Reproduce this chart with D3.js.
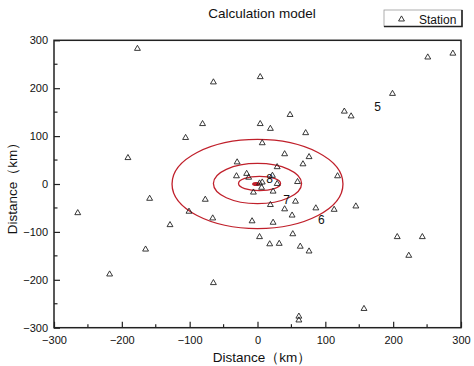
<!DOCTYPE html>
<html><head><meta charset="utf-8">
<script src="https://cdn.jsdelivr.net/npm/d3@7"></script>
<style>body{margin:0;background:#fff}svg{display:block}text{font-family:"Liberation Sans",Arial,sans-serif}</style>
</head><body><svg id="c" width="474" height="366"></svg>
<script>
const stationX = [-177,-65,4,251,288,199,128,138,48,-81,4,19,71,-106,7,-191,40,76,-30,67,29,-16,-31,-13,22,118,59,3,7,29,6,-6,23,56,19,40,51,86,113,145,-159,-77,-265,-101,-66,-8,23,-129,3,52,206,243,18,32,63,76,-165,-218,-65,223,157,61,61];
const stationY = [284,214,225,266,274,190,153,143,146,127,127,117,108,98,87,56,64,58,47,43,37,23,18,15,19,18,6,3,5,2,-6,-16,-14,-35,-42,-51,-64,-49,-52,-45,-29,-31,-59,-56,-70,-76,-79,-84,-109,-103,-109,-109,-124,-123,-129,-139,-135,-187,-205,-148,-259,-275,-283];
// contour ellipses (km): level, centre x, centre y, semi-axis x, semi-axis y
const contourLevel = [6,7,8,9];
const contourCx = [0,0,3,-2];
const contourCy = [0,1,1,0];
const contourRx = [126,65,31,5];
const contourRy = [93,42,15,3];
const labelText = ["5","6","7","8"];
const labelX = [177,94,43,18];
const labelY = [160,-77,-35,8];
const xTicks = [-300,-200,-100,0,100,200,300];
const yTicks = [-300,-200,-100,0,100,200,300];

const svg = d3.select("#c");
const L=54,R=461,T=40.3,B=327.7;
const x = d3.scaleLinear().domain([-300,300]).range([L,R]);
const y = d3.scaleLinear().domain([-300,300]).range([B,T]);

// contours
const cg = svg.append("g");
contourLevel.forEach((lv,i)=>{
  cg.append("ellipse")
    .attr("cx",x(contourCx[i])).attr("cy",y(contourCy[i]))
    .attr("rx",x(contourRx[i])-x(0)).attr("ry",y(0)-y(contourRy[i]))
    .attr("fill",i===3?"#c8202a":"none").attr("stroke","#c0202b").attr("stroke-width",1.3);
});

// stations
const sym = d3.symbol().type(d3.symbolTriangle).size(15);
svg.append("g").selectAll("path").data(stationX.map((v,i)=>[v,stationY[i]])).join("path")
  .attr("d",sym).attr("transform",d=>`translate(${x(d[0])},${y(d[1])+0.7})`)
  .attr("fill","none").attr("stroke","#222").attr("stroke-width",0.9);

// contour labels
svg.append("g").selectAll("text").data(labelText).join("text")
  .attr("x",(d,i)=>x(labelX[i])).attr("y",(d,i)=>y(labelY[i]))
  .attr("text-anchor","middle").attr("dominant-baseline","middle")
  .attr("font-size",12).attr("fill","#111").text(d=>d);

// axes with inward ticks
const xAxis = d3.axisBottom(x).tickValues(xTicks).tickSize(-6).tickPadding(9);
const gx = svg.append("g").attr("transform",`translate(0,${B})`).call(xAxis);
const yAxis = d3.axisLeft(y).tickValues(yTicks).tickSize(-6).tickPadding(9);
const gy = svg.append("g").attr("transform",`translate(${L},0)`).call(yAxis);
[gx,gy].forEach(g=>{
  g.select(".domain").remove();
  g.selectAll(".tick line").attr("stroke","#222").attr("stroke-width",1.2);
  g.selectAll("text").attr("font-size",11).attr("fill","#111").attr("font-family","Liberation Sans, Arial, sans-serif");
});
gy.selectAll("text").attr("dx",3);
// minor ticks
const minor = [-250,-150,-50,50,150,250];
svg.append("g").selectAll("line").data(minor).join("line")
  .attr("x1",d=>x(d)).attr("x2",d=>x(d)).attr("y1",B).attr("y2",B-3.5).attr("stroke","#222").attr("stroke-width",1.2);
svg.append("g").selectAll("line").data(minor).join("line")
  .attr("y1",d=>y(d)).attr("y2",d=>y(d)).attr("x1",L).attr("x2",L+3.5).attr("stroke","#222").attr("stroke-width",1.2);

// frame
svg.append("rect").attr("x",L).attr("y",T).attr("width",R-L).attr("height",B-T)
  .attr("fill","none").attr("stroke","#222").attr("stroke-width",1.5);

// titles
svg.append("text").attr("x",262).attr("y",18).attr("text-anchor","middle").attr("font-size",13.5).attr("fill","#111").text("Calculation model");
svg.append("text").attr("x",262).attr("y",362).attr("text-anchor","middle").attr("font-size",13.5).attr("fill","#111").text("Distance（km）");
svg.append("text").attr("transform","translate(17,185) rotate(-90)").attr("text-anchor","middle").attr("font-size",13.5).attr("fill","#111").text("Distance（km）");

// legend
const lg = svg.append("g");
lg.append("rect").attr("x",384).attr("y",10).attr("width",78).attr("height",16.5).attr("fill","#fff").attr("stroke","#999").attr("stroke-width",0.8);
lg.append("path").attr("d",`M462,10V26.5H384`).attr("fill","none").attr("stroke","#222").attr("stroke-width",1.6);
lg.append("path").attr("d",sym).attr("transform","translate(401.5,19.3)").attr("fill","none").attr("stroke","#222").attr("stroke-width",0.9);
lg.append("text").attr("x",419).attr("y",23.5).attr("font-size",12).attr("fill","#111").text("Station");
</script></body></html>
